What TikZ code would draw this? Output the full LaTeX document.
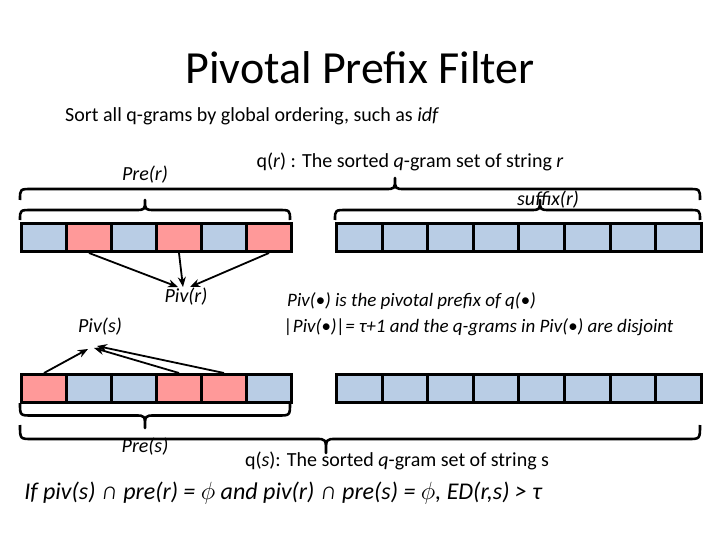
\documentclass[tikz,border=0pt]{standalone}
\usepackage{fontspec}
\setmainfont{Carlito}
\usetikzlibrary{arrows.meta}
\definecolor{cb}{HTML}{B9CDE5}
\definecolor{cr}{HTML}{FF9999}
\tikzset{cell/.style={draw=black,line width=3pt},
 brc/.style={draw=black,line width=2.6pt,line join=round},
 arr/.style={draw=black,line width=1.8pt,-{Stealth[length=10pt,width=8pt]}},
 lbl/.style={inner sep=0pt,font=\fontsize{20}{22}\selectfont\itshape}}
\newcommand{\mybr}[5]{% x1 x2 tip yends ytip
 \path[brc] (#1,#4) .. controls (#1,{(#4+#5)/2}) .. ({#1+12},{(#4+#5)/2}) -- ({#3-10},{(#4+#5)/2}) .. controls (#3,{(#4+#5)/2}) .. (#3,#5) .. controls (#3,{(#4+#5)/2}) .. ({#3+10},{(#4+#5)/2}) -- ({#2-12},{(#4+#5)/2}) .. controls (#2,{(#4+#5)/2}) .. (#2,#4);}
\begin{document}
\begin{tikzpicture}[x=1pt,y=-1pt]
\useasboundingbox (0,0) rectangle (720,540);
\node (title) at (360,68) {\fontsize{46}{50}\selectfont Pivotal Prefix Filter};
\node[anchor=west,inner sep=0pt] (sort) at (65,116) {\fontsize{20}{22}\selectfont Sort all q-grams by global ordering, such as \textit{idf}};
% top row
\foreach \i/\c in {0/cb,1/cr,2/cb,3/cr,4/cb,5/cr}{
 \node[cell,fill=\c,minimum width=45pt,minimum height=28pt,anchor=north west,inner sep=0pt] (r\i) at ({20+45*\i},222) {};}
\foreach \i in {0,...,7}{
 \node[cell,fill=cb,minimum width=45.6pt,minimum height=28pt,anchor=north west,inner sep=0pt] (rr\i) at ({335+45.6*\i},222) {};}
\foreach \i/\c in {0/cr,1/cb,2/cb,3/cr,4/cr,5/cb}{
 \node[cell,fill=\c,minimum width=45pt,minimum height=28pt,anchor=north west,inner sep=0pt] (s\i) at ({20+45*\i},373) {};}
\foreach \i in {0,...,7}{
 \node[cell,fill=cb,minimum width=45.6pt,minimum height=28pt,anchor=north west,inner sep=0pt] (ss\i) at ({335+45.6*\i},373) {};}
% braces
\mybr{20}{700}{395}{200}{178}
\mybr{20}{290}{145}{220}{200}
\mybr{335}{700}{540}{220}{200}
\mybr{20}{290}{145}{403}{428}
\mybr{20}{700}{326}{425}{453}
% labels
\node[lbl] (prer) at (145,175) {Pre(r)};
\node[inner sep=0pt,font=\fontsize{20}{22}\selectfont] (qr) at (410,162) {q(\textit{r}) : The sorted \textit{q}-gram set of string \textit{r}};
\node[lbl] (suf) at (548,200) {suffix(r)};
\node[lbl] (pivr) at (186,297) {Piv(r)};
\node[lbl] (pivs) at (100,327) {Piv(s)};
\node[lbl] (pres) at (145,447) {Pre(s)};
\node[lbl,anchor=west,font=\fontsize{19}{21}\selectfont\itshape] (t1) at (287,301) {Piv(\textbullet) is the pivotal prefix of q(\textbullet)};
\node[lbl,anchor=west,font=\fontsize{19}{21}\selectfont\itshape] (t2) at (284,327) {|Piv(\textbullet)|= τ+1 and the q-grams in Piv(\textbullet) are disjoint};
\node[inner sep=0pt,font=\fontsize{20}{22}\selectfont] (qs) at (397,461) {q(\textit{s}): The sorted \textit{q}-gram set of string s};
\node[inner sep=0pt,font=\fontsize{24}{26}\selectfont\itshape] (fin) at (283,493) {If piv(s) ∩ pre(r) = $\phi$ and piv(r) ∩ pre(s) = $\phi$, ED(r,s) > τ};
% arrows
\coordinate (pr1) at (178,287); \coordinate (pr2) at (183,287); \coordinate (pr3) at (190,287);
\draw[arr] (r1.south) -- (pr1);
\draw[arr] (r3.south) -- (pr2);
\draw[arr] (r5.south) -- (pr3);
\coordinate (ps1) at (88,349); \coordinate (ps2) at (94,348); \coordinate (ps3) at (97,346);
\draw[arr] (s0.north) -- (ps1);
\draw[arr] (s3.north) -- (ps2);
\draw[arr] (s4.north) -- (ps3);
\end{tikzpicture}
\end{document}
